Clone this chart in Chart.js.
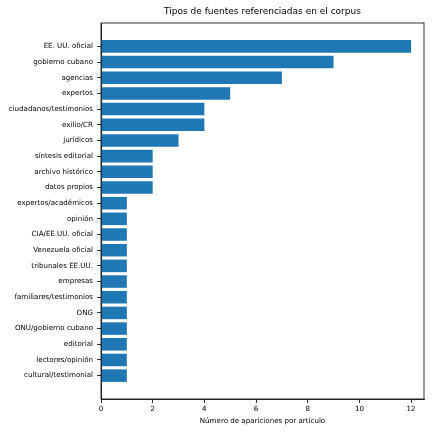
<!DOCTYPE html>
<html>
<head>
<meta charset="utf-8">
<script src="https://cdn.jsdelivr.net/npm/chart.js@4/dist/chart.umd.min.js"></script>
<style>
  html, body { margin: 0; padding: 0; background: #fff; }
  #wrap { width: 432px; height: 432px; }
</style>
</head>
<body>
<div id="wrap"><canvas id="c" width="432" height="432"></canvas></div>
<script>
const categories = [
  "EE. UU. oficial", "gobierno cubano", "agencias", "expertos",
  "ciudadanos/testimonios", "exilio/CR", "jurídicos", "síntesis editorial",
  "archivo histórico", "datos propios", "expertos/académicos", "opinión",
  "CIA/EE.UU. oficial", "Venezuela oficial", "tribunales EE.UU.", "empresas",
  "familiares/testimonios", "ONG", "ONU/gobierno cubano", "editorial",
  "lectores/opinión", "cultural/testimonial"
];
const counts = [12, 9, 7, 5, 4, 4, 3, 2, 2, 2, 1, 1, 1, 1, 1, 1, 1, 1, 1, 1, 1, 1];
const xTicks = [0, 2, 4, 6, 8, 10, 12];
const titleText = "Tipos de fuentes referenciadas en el corpus";
const xLabel = "Número de apariciones por artículo";

const FONT = "'DejaVu Sans', sans-serif";
const Y_MIN = -1.49, Y_MAX = 22.49, X_MIN = 0, X_MAX = 12.5;

const framePlugin = {
  id: 'frame',
  afterDraw(chart) {
    const a = chart.chartArea, ctx = chart.ctx;
    ctx.save();
    ctx.strokeStyle = '#000';
    ctx.lineWidth = 0.8;
    ctx.strokeRect(a.left, a.top, a.right - a.left, a.bottom - a.top);
    ctx.fillStyle = '#000';
    ctx.font = "9px " + FONT;
    ctx.textAlign = 'center';
    ctx.textBaseline = 'middle';
    ctx.fillText(titleText, (a.left + a.right) / 2, 12);
    ctx.restore();
  }
};

new Chart(document.getElementById('c'), {
  type: 'bar',
  data: {
    datasets: [{
      data: counts.map((v, i) => ({ x: v, y: i })),
      backgroundColor: '#1f77b4',
      borderWidth: 0,
      barPercentage: 0.8,
      categoryPercentage: 1.0
    }]
  },
  options: {
    indexAxis: 'y',
    responsive: false,
    animation: false,
    devicePixelRatio: 1,
    layout: { padding: { left: 0, right: 8, top: 23, bottom: 0 } },
    plugins: {
      legend: { display: false },
      tooltip: { enabled: false },
      title: { display: false }
    },
    scales: {
      y: {
        type: 'linear',
        reverse: true,
        offset: false,
        bounds: 'data',
        min: Y_MIN,
        max: Y_MAX,
        afterBuildTicks: (s) => {
          s.ticks = categories.map((_, i) => ({ value: i }));
          s.min = Y_MIN; s.max = Y_MAX;
        },
        afterFit: (s) => { s.width = 101; s.paddingTop = 0; s.paddingBottom = 0; },
        ticks: {
          autoSkip: false,
          color: '#000',
          font: { family: FONT, size: 7.1 },
          padding: 4,
          callback: (v) => categories[v] ?? ''
        },
        grid: { offset: false, drawOnChartArea: false, tickLength: 4, color: '#000', tickWidth: 0.8 },
        border: { color: '#000', width: 0.8 }
      },
      x: {
        type: 'linear',
        offset: false,
        bounds: 'data',
        min: X_MIN,
        max: X_MAX,
        afterBuildTicks: (s) => {
          s.ticks = xTicks.map(v => ({ value: v }));
          s.min = X_MIN; s.max = X_MAX;
        },
        afterFit: (s) => { s.height = 33; s.paddingLeft = 0; s.paddingRight = 0; },
        ticks: {
          color: '#000',
          font: { family: FONT, size: 7.1 },
          padding: 1.5,
          maxRotation: 0
        },
        grid: { drawOnChartArea: false, tickLength: 4, color: '#000', tickWidth: 0.8 },
        border: { color: '#000', width: 0.8 },
        title: {
          display: true,
          text: xLabel,
          color: '#000',
          font: { family: FONT, size: 7.1 },
          padding: { top: 7, bottom: 7 }
        }
      }
    }
  },
  plugins: [framePlugin]
});
</script>
</body>
</html>
